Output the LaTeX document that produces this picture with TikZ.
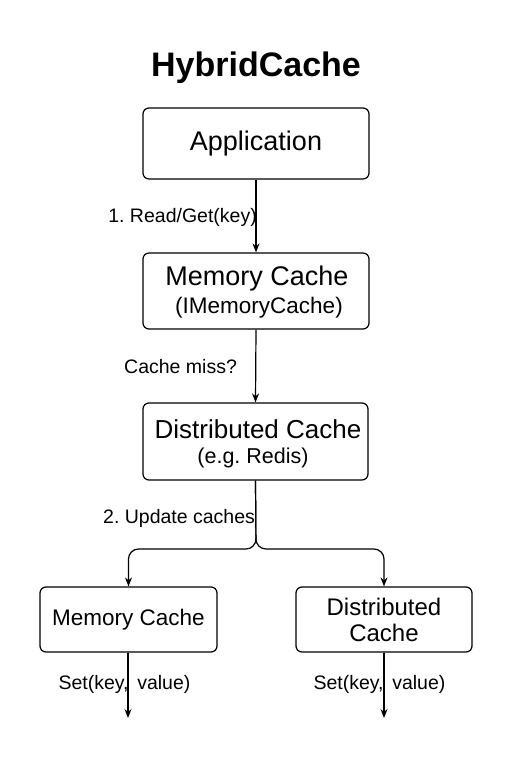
\documentclass[tikz,border=0pt]{standalone}
\usepackage{fontspec}
\setmainfont{Liberation Sans}
\usetikzlibrary{arrows.meta}
\frenchspacing
\tikzset{
  box/.style={draw, line width=1.2pt, rounded corners=6pt, align=center, inner sep=0pt},
  conn/.style={line width=1.2pt, -{Stealth[length=9pt,width=7pt]}},
  lbl/.style={inner sep=0pt, font=\fontsize{19.5}{22}\selectfont},
}
\begin{document}
\begin{tikzpicture}[x=1pt,y=-1pt]
\useasboundingbox (0,0) rectangle (512,768);
\node (title) at (256,68) {\fontsize{34}{38}\selectfont\bfseries HybridCache};
\node[box, minimum width=226pt, minimum height=71pt, font=\fontsize{27}{30}\selectfont] (app) at (256,143.5) {Application};
\node[box, minimum width=226pt, minimum height=76pt] (mem) at (256,291) {};
\node (memt1) at (257,279) {\fontsize{27}{30}\selectfont Memory Cache};
\node (memt2) at (259,308) {\fontsize{22.5}{25}\selectfont (IMemoryCache)};
\node[box, minimum width=225pt, minimum height=77pt] (dist) at (255.5,441.5) {};
\node (distt1) at (258,429) {\fontsize{26}{29}\selectfont Distributed Cache};
\node (distt2) at (253,458) {\fontsize{21.5}{24}\selectfont (e.g. Redis)};
\node[box, minimum width=177pt, minimum height=65pt, font=\fontsize{22.5}{25}\selectfont] (lmem) at (128.5,619.5) {Memory Cache};
\node[box, minimum width=176pt, minimum height=65pt, font=\fontsize{24}{26}\selectfont] (rdist) at (384,619.5) {Distributed\\Cache};
\coordinate (lend) at (128,718);
\coordinate (rend) at (384,718);
\draw[conn] (app.south) -- (mem.north);
\draw[conn] (mem.south) -- (dist.north);
\draw[conn, rounded corners=10pt] (dist.south) -- (256,549) -- (128.5,549) -- (lmem.north);
\draw[conn, rounded corners=10pt] (dist.south) -- (256,549) -- (384,549) -- (rdist.north);
\draw[conn] (lmem.south -| lend) -- (lend);
\draw[conn] (rdist.south -| rend) -- (rend);
\node[lbl, anchor=east] (l1) at (257,217) {1. Read/Get(key)};
\node[lbl, anchor=west] (l2) at (124,367) {Cache miss?};
\node[lbl, anchor=west] (l3) at (103,518) {2. Update caches};
\node[lbl] (l4) at (124.5,684) {Set(key, \,value)};
\node[lbl] (l5) at (379.5,684) {Set(key, \,value)};
\end{tikzpicture}
\end{document}
